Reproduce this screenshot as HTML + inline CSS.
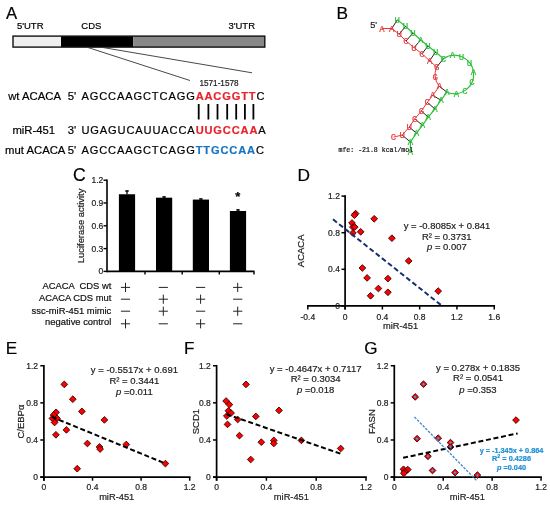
<!DOCTYPE html>
<html><head><meta charset="utf-8"><title>Figure</title>
<style>html,body{margin:0;padding:0;background:#fff;width:550px;height:508px;overflow:hidden}svg{display:block}</style>
</head><body>
<svg width="550" height="508" viewBox="0 0 550 508">
<rect width="550" height="508" fill="#fff"/>
<text x="5.9" y="18.7" font-size="16.7" text-anchor="start" fill="#000" font-weight="normal" font-style="normal" font-family='"Liberation Sans", Arial, sans-serif'  stroke="#000" stroke-width="0.2">A</text>
<text x="16.9" y="29.2" font-size="9.5" text-anchor="start" fill="#000" font-weight="normal" font-style="normal" font-family='"Liberation Sans", Arial, sans-serif'  stroke="#000" stroke-width="0.2">5'UTR</text>
<text x="81.3" y="29.2" font-size="9.5" text-anchor="start" fill="#000" font-weight="normal" font-style="normal" font-family='"Liberation Sans", Arial, sans-serif'  stroke="#000" stroke-width="0.2">CDS</text>
<text x="228.4" y="29.2" font-size="9.5" text-anchor="start" fill="#000" font-weight="normal" font-style="normal" font-family='"Liberation Sans", Arial, sans-serif'  stroke="#000" stroke-width="0.2">3'UTR</text>
<rect x="13" y="36.1" width="48" height="11" fill="#eeeeee" stroke="none"/>
<rect x="61" y="36.1" width="72.3" height="11" fill="#000"/>
<rect x="133.3" y="36.1" width="131.5" height="11" fill="#888888"/>
<rect x="13" y="36.1" width="251.8" height="11" fill="none" stroke="#111" stroke-width="1.4"/>
<line x1="87" y1="47.2" x2="190" y2="80.5" stroke="#333" stroke-width="0.9"/>
<line x1="101" y1="47.2" x2="252" y2="72.8" stroke="#333" stroke-width="0.9"/>
<text x="219" y="85.5" font-size="8.2" text-anchor="middle" fill="#222" font-weight="normal" font-style="normal" font-family='"Liberation Sans", Arial, sans-serif'  stroke="#222" stroke-width="0.2">1571-1578</text>
<text x="8.2" y="99.5" font-size="11.3" text-anchor="start" fill="#000" font-weight="normal" font-style="normal" font-family='"Liberation Sans", Arial, sans-serif'  stroke="#000" stroke-width="0.2">wt ACACA</text>
<text x="67.8" y="99.5" font-size="11.3" text-anchor="start" fill="#000" font-weight="normal" font-style="normal" font-family='"Liberation Sans", Arial, sans-serif'  stroke="#000" stroke-width="0.2">5'</text>
<text x="81.5" y="99.5" font-size="11.1" letter-spacing="0.86" font-family='"Liberation Sans", Arial, sans-serif' stroke="#000" stroke-width="0.2">AGCCAAGCTCAGG<tspan fill="#e8232a" font-weight="bold" stroke="#e8232a" stroke-width="0.2">AACGGTT</tspan><tspan>C</tspan></text>
<text x="12.4" y="133.5" font-size="11.3" text-anchor="start" fill="#000" font-weight="normal" font-style="normal" font-family='"Liberation Sans", Arial, sans-serif'  stroke="#000" stroke-width="0.2">miR-451</text>
<text x="67.8" y="133.5" font-size="11.3" text-anchor="start" fill="#000" font-weight="normal" font-style="normal" font-family='"Liberation Sans", Arial, sans-serif'  stroke="#000" stroke-width="0.2">3'</text>
<text x="81.5" y="133.5" font-size="11.1" letter-spacing="0.86" font-family='"Liberation Sans", Arial, sans-serif' stroke="#000" stroke-width="0.2">UGAGUCAUUACCA<tspan fill="#e8232a" font-weight="bold" stroke="#e8232a" stroke-width="0.2">UUGCCAA</tspan><tspan>A</tspan></text>
<text x="5.1" y="153.5" font-size="11.3" text-anchor="start" fill="#000" font-weight="normal" font-style="normal" font-family='"Liberation Sans", Arial, sans-serif'  stroke="#000" stroke-width="0.2">mut ACACA</text>
<text x="67.8" y="153.5" font-size="11.3" text-anchor="start" fill="#000" font-weight="normal" font-style="normal" font-family='"Liberation Sans", Arial, sans-serif'  stroke="#000" stroke-width="0.2">5'</text>
<text x="81.5" y="153.5" font-size="11.1" letter-spacing="0.86" font-family='"Liberation Sans", Arial, sans-serif' stroke="#000" stroke-width="0.2">AGCCAAGCTCAGG<tspan fill="#1874c4" font-weight="bold" stroke="#1874c4" stroke-width="0.2">TTGCCAA</tspan><tspan>C</tspan></text>
<line x1="198.7" y1="104" x2="198.7" y2="119.5" stroke="#000" stroke-width="1.8"/>
<line x1="208.4" y1="104" x2="208.4" y2="119.5" stroke="#000" stroke-width="1.8"/>
<line x1="217.5" y1="104" x2="217.5" y2="119.5" stroke="#000" stroke-width="1.8"/>
<line x1="227.2" y1="104" x2="227.2" y2="119.5" stroke="#000" stroke-width="1.8"/>
<line x1="236.2" y1="104" x2="236.2" y2="119.5" stroke="#000" stroke-width="1.8"/>
<line x1="244.9" y1="104" x2="244.9" y2="119.5" stroke="#000" stroke-width="1.8"/>
<line x1="253.4" y1="104" x2="253.4" y2="119.5" stroke="#000" stroke-width="1.8"/>
<text x="336.6" y="18.8" font-size="17.3" text-anchor="start" fill="#000" font-weight="normal" font-style="normal" font-family='"Liberation Sans", Arial, sans-serif'  stroke="#000" stroke-width="0.2">B</text>
<text x="370.2" y="28.3" font-size="9.2" text-anchor="start" fill="#222" font-weight="normal" font-style="normal" font-family='"Liberation Sans", Arial, sans-serif'  stroke="#222" stroke-width="0.2">5'</text>
<path fill="none" stroke="#e8383d" stroke-width="1" d="M 382,28.5 L 391.8,28.5 L 399.2,34.2 L 406,41 L 414,47.6 L 422,53.8 L 429.6,60.7 L 436.7,67.05 A 19.2 19.2 0 0 0 439.38,86.46 L 439.38,86.46 L 432.7,95.3 L 427.3,102.4 L 421.4,111 L 414.8,118.8 L 409.2,127.1 L 402.2,135.1 L 393.4,137.1"/>
<path fill="none" stroke="#2fbf3a" stroke-width="1.2" d="M 397.3,19.8 L 405.5,26.4 L 413,33 L 420.7,40 L 428,46 L 435.6,52 L 443.46,58.72 A 19.2 19.2 0 1 1 447.02,92.22 L 447.02,92.22 L 440.9,100.2 L 434.9,108.9 L 428.3,117.2 L 422.4,125.3 L 416.5,133.1 L 410.4,142 L 410.4,151.8"/>
<line x1="391.8" y1="28.5" x2="397.3" y2="19.8" stroke="#222" stroke-width="1"/>
<line x1="399.2" y1="34.2" x2="405.5" y2="26.4" stroke="#222" stroke-width="1"/>
<line x1="406" y1="41" x2="413" y2="33" stroke="#222" stroke-width="1"/>
<line x1="414" y1="47.6" x2="420.7" y2="40" stroke="#222" stroke-width="1"/>
<line x1="422" y1="53.8" x2="428" y2="46" stroke="#222" stroke-width="1"/>
<line x1="429.6" y1="60.7" x2="435.6" y2="52" stroke="#222" stroke-width="1"/>
<line x1="436.7" y1="67.05" x2="443.46" y2="58.72" stroke="#222" stroke-width="1"/>
<line x1="439.38" y1="86.46" x2="447.02" y2="92.22" stroke="#222" stroke-width="1"/>
<line x1="432.7" y1="95.3" x2="440.9" y2="100.2" stroke="#222" stroke-width="1"/>
<line x1="427.3" y1="102.4" x2="434.9" y2="108.9" stroke="#222" stroke-width="1"/>
<line x1="421.4" y1="111" x2="428.3" y2="117.2" stroke="#222" stroke-width="1"/>
<line x1="414.8" y1="118.8" x2="422.4" y2="125.3" stroke="#222" stroke-width="1"/>
<line x1="409.2" y1="127.1" x2="416.5" y2="133.1" stroke="#222" stroke-width="1"/>
<line x1="402.2" y1="135.1" x2="410.4" y2="142" stroke="#222" stroke-width="1"/>
<text x="382" y="31.5" font-size="9" text-anchor="middle" fill="#e8383d" font-family='"Liberation Mono", "Courier New", monospace' stroke="#e8383d" stroke-width="0.2">A</text>
<text x="391.8" y="31.5" font-size="9" text-anchor="middle" fill="#e8383d" font-family='"Liberation Mono", "Courier New", monospace' stroke="#e8383d" stroke-width="0.2">A</text>
<text x="399.2" y="37.2" font-size="9" text-anchor="middle" fill="#e8383d" font-family='"Liberation Mono", "Courier New", monospace' stroke="#e8383d" stroke-width="0.2">U</text>
<text x="406" y="44.0" font-size="9" text-anchor="middle" fill="#e8383d" font-family='"Liberation Mono", "Courier New", monospace' stroke="#e8383d" stroke-width="0.2">C</text>
<text x="414" y="50.6" font-size="9" text-anchor="middle" fill="#e8383d" font-family='"Liberation Mono", "Courier New", monospace' stroke="#e8383d" stroke-width="0.2">U</text>
<text x="422" y="56.8" font-size="9" text-anchor="middle" fill="#e8383d" font-family='"Liberation Mono", "Courier New", monospace' stroke="#e8383d" stroke-width="0.2">C</text>
<text x="429.6" y="63.7" font-size="9" text-anchor="middle" fill="#e8383d" font-family='"Liberation Mono", "Courier New", monospace' stroke="#e8383d" stroke-width="0.2">A</text>
<text x="436.7" y="70.05" font-size="9" text-anchor="middle" fill="#e8383d" font-family='"Liberation Mono", "Courier New", monospace' stroke="#e8383d" stroke-width="0.2">G</text>
<text x="435.31" y="79.53" font-size="9" text-anchor="middle" fill="#e8383d" font-family='"Liberation Mono", "Courier New", monospace' stroke="#e8383d" stroke-width="0.2">G</text>
<text x="439.38" y="89.46" font-size="9" text-anchor="middle" fill="#e8383d" font-family='"Liberation Mono", "Courier New", monospace' stroke="#e8383d" stroke-width="0.2">A</text>
<text x="432.7" y="98.3" font-size="9" text-anchor="middle" fill="#e8383d" font-family='"Liberation Mono", "Courier New", monospace' stroke="#e8383d" stroke-width="0.2">A</text>
<text x="427.3" y="105.4" font-size="9" text-anchor="middle" fill="#e8383d" font-family='"Liberation Mono", "Courier New", monospace' stroke="#e8383d" stroke-width="0.2">C</text>
<text x="421.4" y="114.0" font-size="9" text-anchor="middle" fill="#e8383d" font-family='"Liberation Mono", "Courier New", monospace' stroke="#e8383d" stroke-width="0.2">G</text>
<text x="414.8" y="121.8" font-size="9" text-anchor="middle" fill="#e8383d" font-family='"Liberation Mono", "Courier New", monospace' stroke="#e8383d" stroke-width="0.2">G</text>
<text x="409.2" y="130.1" font-size="9" text-anchor="middle" fill="#e8383d" font-family='"Liberation Mono", "Courier New", monospace' stroke="#e8383d" stroke-width="0.2">U</text>
<text x="402.2" y="138.1" font-size="9" text-anchor="middle" fill="#e8383d" font-family='"Liberation Mono", "Courier New", monospace' stroke="#e8383d" stroke-width="0.2">U</text>
<text x="393.4" y="140.1" font-size="9" text-anchor="middle" fill="#e8383d" font-family='"Liberation Mono", "Courier New", monospace' stroke="#e8383d" stroke-width="0.2">C</text>
<text x="397.3" y="22.8" font-size="9" text-anchor="middle" fill="#2fbf3a" font-family='"Liberation Mono", "Courier New", monospace' stroke="#2fbf3a" stroke-width="0.2">U</text>
<text x="405.5" y="29.4" font-size="9" text-anchor="middle" fill="#2fbf3a" font-family='"Liberation Mono", "Courier New", monospace' stroke="#2fbf3a" stroke-width="0.2">U</text>
<text x="413" y="36.0" font-size="9" text-anchor="middle" fill="#2fbf3a" font-family='"Liberation Mono", "Courier New", monospace' stroke="#2fbf3a" stroke-width="0.2">U</text>
<text x="420.7" y="43.0" font-size="9" text-anchor="middle" fill="#2fbf3a" font-family='"Liberation Mono", "Courier New", monospace' stroke="#2fbf3a" stroke-width="0.2">A</text>
<text x="428" y="49.0" font-size="9" text-anchor="middle" fill="#2fbf3a" font-family='"Liberation Mono", "Courier New", monospace' stroke="#2fbf3a" stroke-width="0.2">U</text>
<text x="435.6" y="55.0" font-size="9" text-anchor="middle" fill="#2fbf3a" font-family='"Liberation Mono", "Courier New", monospace' stroke="#2fbf3a" stroke-width="0.2">U</text>
<text x="443.46" y="61.72" font-size="9" text-anchor="middle" fill="#2fbf3a" font-family='"Liberation Mono", "Courier New", monospace' stroke="#2fbf3a" stroke-width="0.2">C</text>
<text x="452.41" y="58.4" font-size="9" text-anchor="middle" fill="#2fbf3a" font-family='"Liberation Mono", "Courier New", monospace' stroke="#2fbf3a" stroke-width="0.2">A</text>
<text x="461.5" y="59.66" font-size="9" text-anchor="middle" fill="#2fbf3a" font-family='"Liberation Mono", "Courier New", monospace' stroke="#2fbf3a" stroke-width="0.2">U</text>
<text x="469.48" y="65.62" font-size="9" text-anchor="middle" fill="#2fbf3a" font-family='"Liberation Mono", "Courier New", monospace' stroke="#2fbf3a" stroke-width="0.2">U</text>
<text x="473.49" y="75.42" font-size="9" text-anchor="middle" fill="#2fbf3a" font-family='"Liberation Mono", "Courier New", monospace' stroke="#2fbf3a" stroke-width="0.2">A</text>
<text x="471.99" y="85.2" font-size="9" text-anchor="middle" fill="#2fbf3a" font-family='"Liberation Mono", "Courier New", monospace' stroke="#2fbf3a" stroke-width="0.2">C</text>
<text x="465.0" y="93.51" font-size="9" text-anchor="middle" fill="#2fbf3a" font-family='"Liberation Mono", "Courier New", monospace' stroke="#2fbf3a" stroke-width="0.2">C</text>
<text x="456.37" y="96.6" font-size="9" text-anchor="middle" fill="#2fbf3a" font-family='"Liberation Mono", "Courier New", monospace' stroke="#2fbf3a" stroke-width="0.2">A</text>
<text x="447.02" y="95.22" font-size="9" text-anchor="middle" fill="#2fbf3a" font-family='"Liberation Mono", "Courier New", monospace' stroke="#2fbf3a" stroke-width="0.2">A</text>
<text x="440.9" y="103.2" font-size="9" text-anchor="middle" fill="#2fbf3a" font-family='"Liberation Mono", "Courier New", monospace' stroke="#2fbf3a" stroke-width="0.2">A</text>
<text x="434.9" y="111.9" font-size="9" text-anchor="middle" fill="#2fbf3a" font-family='"Liberation Mono", "Courier New", monospace' stroke="#2fbf3a" stroke-width="0.2">A</text>
<text x="428.3" y="120.2" font-size="9" text-anchor="middle" fill="#2fbf3a" font-family='"Liberation Mono", "Courier New", monospace' stroke="#2fbf3a" stroke-width="0.2">A</text>
<text x="422.4" y="128.3" font-size="9" text-anchor="middle" fill="#2fbf3a" font-family='"Liberation Mono", "Courier New", monospace' stroke="#2fbf3a" stroke-width="0.2">A</text>
<text x="416.5" y="136.1" font-size="9" text-anchor="middle" fill="#2fbf3a" font-family='"Liberation Mono", "Courier New", monospace' stroke="#2fbf3a" stroke-width="0.2">A</text>
<text x="410.4" y="145.0" font-size="9" text-anchor="middle" fill="#2fbf3a" font-family='"Liberation Mono", "Courier New", monospace' stroke="#2fbf3a" stroke-width="0.2">A</text>
<text x="410.4" y="154.8" font-size="9" text-anchor="middle" fill="#2fbf3a" font-family='"Liberation Mono", "Courier New", monospace' stroke="#2fbf3a" stroke-width="0.2">A</text>
<text x="338.5" y="151.9" font-size="6.55" text-anchor="start" fill="#111" font-weight="normal" font-style="normal" font-family='"Liberation Mono", "Courier New", monospace'  stroke="#111" stroke-width="0.2">mfe: -21.8 kcal/mol</text>
<text x="72.9" y="180.7" font-size="17.5" text-anchor="start" fill="#000" font-weight="normal" font-style="normal" font-family='"Liberation Sans", Arial, sans-serif'  stroke="#000" stroke-width="0.2">C</text>
<line x1="107" y1="179.39999999999998" x2="107" y2="272.2" stroke="#000" stroke-width="1.6"/>
<line x1="103.5" y1="271.4" x2="107" y2="271.4" stroke="#000" stroke-width="1.4"/>
<text x="103.3" y="274.4" font-size="8.5" text-anchor="end" fill="#222" font-weight="normal" font-style="normal" font-family='"Liberation Sans", Arial, sans-serif'  stroke="#222" stroke-width="0.2">0</text>
<line x1="103.5" y1="248.59999999999997" x2="107" y2="248.59999999999997" stroke="#000" stroke-width="1.4"/>
<text x="103.3" y="251.59999999999997" font-size="8.5" text-anchor="end" fill="#222" font-weight="normal" font-style="normal" font-family='"Liberation Sans", Arial, sans-serif'  stroke="#222" stroke-width="0.2">0.3</text>
<line x1="103.5" y1="225.79999999999998" x2="107" y2="225.79999999999998" stroke="#000" stroke-width="1.4"/>
<text x="103.3" y="228.79999999999998" font-size="8.5" text-anchor="end" fill="#222" font-weight="normal" font-style="normal" font-family='"Liberation Sans", Arial, sans-serif'  stroke="#222" stroke-width="0.2">0.6</text>
<line x1="103.5" y1="202.99999999999997" x2="107" y2="202.99999999999997" stroke="#000" stroke-width="1.4"/>
<text x="103.3" y="205.99999999999997" font-size="8.5" text-anchor="end" fill="#222" font-weight="normal" font-style="normal" font-family='"Liberation Sans", Arial, sans-serif'  stroke="#222" stroke-width="0.2">0.9</text>
<line x1="103.5" y1="180.2" x2="107" y2="180.2" stroke="#000" stroke-width="1.4"/>
<text x="103.3" y="183.2" font-size="8.5" text-anchor="end" fill="#222" font-weight="normal" font-style="normal" font-family='"Liberation Sans", Arial, sans-serif'  stroke="#222" stroke-width="0.2">1.2</text>
<line x1="107" y1="271.4" x2="254.5" y2="271.4" stroke="#000" stroke-width="1.6"/>
<line x1="145" y1="271.4" x2="145" y2="274.5" stroke="#000" stroke-width="1.4"/>
<line x1="182.2" y1="271.4" x2="182.2" y2="274.5" stroke="#000" stroke-width="1.4"/>
<line x1="219.3" y1="271.4" x2="219.3" y2="274.5" stroke="#000" stroke-width="1.4"/>
<line x1="254" y1="271.4" x2="254" y2="274.5" stroke="#000" stroke-width="1.4"/>
<text transform="translate(84.4,225.9) rotate(-90)" font-size="9.4" text-anchor="middle" fill="#222" font-family='"Liberation Sans", Arial, sans-serif' stroke="#222" stroke-width="0.2">Luciferase activity</text>
<rect x="118.9" y="194.26" width="16.2" height="77.13999999999999" fill="#000"/>
<line x1="127.0" y1="194.26" x2="127.0" y2="190.83999999999997" stroke="#000" stroke-width="1.3"/>
<rect x="125.3" y="190.23999999999998" width="3.4" height="1.5" fill="#000"/>
<rect x="156.0" y="197.67999999999998" width="16.2" height="73.72" fill="#000"/>
<line x1="164.1" y1="197.67999999999998" x2="164.1" y2="196.76799999999997" stroke="#000" stroke-width="1.3"/>
<rect x="162.4" y="196.16799999999998" width="3.4" height="1.5" fill="#000"/>
<rect x="192.8" y="199.57999999999998" width="16.2" height="71.82" fill="#000"/>
<line x1="200.9" y1="199.57999999999998" x2="200.9" y2="198.82" stroke="#000" stroke-width="1.3"/>
<rect x="199.20000000000002" y="198.22" width="3.4" height="1.5" fill="#000"/>
<rect x="229.9" y="210.97999999999996" width="16.2" height="60.420000000000016" fill="#000"/>
<line x1="238.0" y1="210.97999999999996" x2="238.0" y2="209.76399999999998" stroke="#000" stroke-width="1.3"/>
<rect x="236.3" y="209.164" width="3.4" height="1.5" fill="#000"/>
<text x="237.9" y="201.4" font-size="13" text-anchor="middle" fill="#000" font-weight="bold" font-style="normal" font-family='"Liberation Sans", Arial, sans-serif'  stroke="#000" stroke-width="0.2">*</text>
<text x="111.3" y="288.9" font-size="9.4" text-anchor="end" fill="#111" font-family='"Liberation Sans", Arial, sans-serif' xml:space="preserve" stroke="#111" stroke-width="0.2">ACACA  CDS wt</text>
<line x1="120.9" y1="287.4" x2="130.1" y2="287.4" stroke="#222" stroke-width="1"/>
<line x1="125.5" y1="282.79999999999995" x2="125.5" y2="292.0" stroke="#222" stroke-width="1"/>
<line x1="158.70000000000002" y1="287.4" x2="167.9" y2="287.4" stroke="#222" stroke-width="1"/>
<line x1="196.0" y1="287.4" x2="205.2" y2="287.4" stroke="#222" stroke-width="1"/>
<line x1="233.1" y1="287.4" x2="242.29999999999998" y2="287.4" stroke="#222" stroke-width="1"/>
<line x1="237.7" y1="282.79999999999995" x2="237.7" y2="292.0" stroke="#222" stroke-width="1"/>
<text x="111.3" y="301.3" font-size="9.4" text-anchor="end" fill="#111" font-family='"Liberation Sans", Arial, sans-serif' xml:space="preserve" stroke="#111" stroke-width="0.2">ACACA CDS mut</text>
<line x1="120.9" y1="299.2" x2="130.1" y2="299.2" stroke="#222" stroke-width="1"/>
<line x1="158.70000000000002" y1="299.2" x2="167.9" y2="299.2" stroke="#222" stroke-width="1"/>
<line x1="163.3" y1="294.59999999999997" x2="163.3" y2="303.8" stroke="#222" stroke-width="1"/>
<line x1="196.0" y1="299.2" x2="205.2" y2="299.2" stroke="#222" stroke-width="1"/>
<line x1="200.6" y1="294.59999999999997" x2="200.6" y2="303.8" stroke="#222" stroke-width="1"/>
<line x1="233.1" y1="299.2" x2="242.29999999999998" y2="299.2" stroke="#222" stroke-width="1"/>
<text x="111.3" y="313.5" font-size="9.4" text-anchor="end" fill="#111" font-family='"Liberation Sans", Arial, sans-serif' xml:space="preserve" stroke="#111" stroke-width="0.2">ssc-miR-451 mimic</text>
<line x1="120.9" y1="311.2" x2="130.1" y2="311.2" stroke="#222" stroke-width="1"/>
<line x1="158.70000000000002" y1="311.2" x2="167.9" y2="311.2" stroke="#222" stroke-width="1"/>
<line x1="163.3" y1="306.59999999999997" x2="163.3" y2="315.8" stroke="#222" stroke-width="1"/>
<line x1="196.0" y1="311.2" x2="205.2" y2="311.2" stroke="#222" stroke-width="1"/>
<line x1="233.1" y1="311.2" x2="242.29999999999998" y2="311.2" stroke="#222" stroke-width="1"/>
<line x1="237.7" y1="306.59999999999997" x2="237.7" y2="315.8" stroke="#222" stroke-width="1"/>
<text x="111.3" y="325.3" font-size="9.4" text-anchor="end" fill="#111" font-family='"Liberation Sans", Arial, sans-serif' xml:space="preserve" stroke="#111" stroke-width="0.2">negative control</text>
<line x1="120.9" y1="323.8" x2="130.1" y2="323.8" stroke="#222" stroke-width="1"/>
<line x1="125.5" y1="319.2" x2="125.5" y2="328.40000000000003" stroke="#222" stroke-width="1"/>
<line x1="158.70000000000002" y1="323.8" x2="167.9" y2="323.8" stroke="#222" stroke-width="1"/>
<line x1="196.0" y1="323.8" x2="205.2" y2="323.8" stroke="#222" stroke-width="1"/>
<line x1="200.6" y1="319.2" x2="200.6" y2="328.40000000000003" stroke="#222" stroke-width="1"/>
<line x1="233.1" y1="323.8" x2="242.29999999999998" y2="323.8" stroke="#222" stroke-width="1"/>
<text x="297.6" y="180.6" font-size="17.3" text-anchor="start" fill="#000" font-weight="normal" font-style="normal" font-family='"Liberation Sans", Arial, sans-serif'  stroke="#000" stroke-width="0.2">D</text>
<line x1="345.1" y1="195.29999999999995" x2="345.1" y2="309.5" stroke="#000" stroke-width="1.7"/>
<line x1="307.02000000000004" y1="305.9" x2="495.02000000000004" y2="305.9" stroke="#000" stroke-width="1.7"/>
<line x1="341.5" y1="196.09999999999997" x2="345.1" y2="196.09999999999997" stroke="#000" stroke-width="1.5"/>
<text x="339.9" y="199.09999999999997" font-size="8.5" text-anchor="end" fill="#222" font-weight="normal" font-style="normal" font-family='"Liberation Sans", Arial, sans-serif'  stroke="#222" stroke-width="0.2">1.2</text>
<line x1="341.5" y1="232.7" x2="345.1" y2="232.7" stroke="#000" stroke-width="1.5"/>
<text x="339.9" y="235.7" font-size="8.5" text-anchor="end" fill="#222" font-weight="normal" font-style="normal" font-family='"Liberation Sans", Arial, sans-serif'  stroke="#222" stroke-width="0.2">0.8</text>
<line x1="341.5" y1="269.29999999999995" x2="345.1" y2="269.29999999999995" stroke="#000" stroke-width="1.5"/>
<text x="339.9" y="272.29999999999995" font-size="8.5" text-anchor="end" fill="#222" font-weight="normal" font-style="normal" font-family='"Liberation Sans", Arial, sans-serif'  stroke="#222" stroke-width="0.2">0.4</text>
<line x1="341.5" y1="305.9" x2="345.1" y2="305.9" stroke="#000" stroke-width="1.5"/>
<text x="339.9" y="308.9" font-size="8.5" text-anchor="end" fill="#222" font-weight="normal" font-style="normal" font-family='"Liberation Sans", Arial, sans-serif'  stroke="#222" stroke-width="0.2">0</text>
<line x1="307.82000000000005" y1="305.9" x2="307.82000000000005" y2="309.5" stroke="#000" stroke-width="1.5"/>
<text x="307.82000000000005" y="319.6" font-size="8.5" text-anchor="middle" fill="#222" font-weight="normal" font-style="normal" font-family='"Liberation Sans", Arial, sans-serif'  stroke="#222" stroke-width="0.2">-0.4</text>
<line x1="345.1" y1="305.9" x2="345.1" y2="309.5" stroke="#000" stroke-width="1.5"/>
<text x="345.1" y="319.6" font-size="8.5" text-anchor="middle" fill="#222" font-weight="normal" font-style="normal" font-family='"Liberation Sans", Arial, sans-serif'  stroke="#222" stroke-width="0.2">0</text>
<line x1="382.38" y1="305.9" x2="382.38" y2="309.5" stroke="#000" stroke-width="1.5"/>
<text x="382.38" y="319.6" font-size="8.5" text-anchor="middle" fill="#222" font-weight="normal" font-style="normal" font-family='"Liberation Sans", Arial, sans-serif'  stroke="#222" stroke-width="0.2">0.4</text>
<line x1="419.66" y1="305.9" x2="419.66" y2="309.5" stroke="#000" stroke-width="1.5"/>
<text x="419.66" y="319.6" font-size="8.5" text-anchor="middle" fill="#222" font-weight="normal" font-style="normal" font-family='"Liberation Sans", Arial, sans-serif'  stroke="#222" stroke-width="0.2">0.8</text>
<line x1="456.94000000000005" y1="305.9" x2="456.94000000000005" y2="309.5" stroke="#000" stroke-width="1.5"/>
<text x="456.94000000000005" y="319.6" font-size="8.5" text-anchor="middle" fill="#222" font-weight="normal" font-style="normal" font-family='"Liberation Sans", Arial, sans-serif'  stroke="#222" stroke-width="0.2">1.2</text>
<line x1="494.22" y1="305.9" x2="494.22" y2="309.5" stroke="#000" stroke-width="1.5"/>
<text x="494.22" y="319.6" font-size="8.5" text-anchor="middle" fill="#222" font-weight="normal" font-style="normal" font-family='"Liberation Sans", Arial, sans-serif'  stroke="#222" stroke-width="0.2">1.6</text>
<text transform="translate(303.9,250.8) rotate(-90)" font-size="9.5" text-anchor="middle" fill="#222" font-family='"Liberation Sans", Arial, sans-serif' stroke="#222" stroke-width="0.2">ACACA</text>
<text x="400.5" y="329.4" font-size="9.3" text-anchor="middle" fill="#222" font-weight="normal" font-style="normal" font-family='"Liberation Sans", Arial, sans-serif'  stroke="#222" stroke-width="0.2">miR-451</text>
<polygon points="355.6,210.25 358.95000000000005,213.6 355.6,216.95 352.25,213.6" fill="#ff0000" stroke="#300" stroke-width="0.9"/>
<polygon points="354.4,211.85 357.75,215.2 354.4,218.54999999999998 351.04999999999995,215.2" fill="#ff0000" stroke="#300" stroke-width="0.9"/>
<polygon points="352,219.65 355.35,223 352,226.35 348.65,223" fill="#ff0000" stroke="#300" stroke-width="0.9"/>
<polygon points="352.9,223.75 356.25,227.1 352.9,230.45 349.54999999999995,227.1" fill="#ff0000" stroke="#300" stroke-width="0.9"/>
<polygon points="354.8,223.75 358.15000000000003,227.1 354.8,230.45 351.45,227.1" fill="#ff0000" stroke="#300" stroke-width="0.9"/>
<polygon points="352.9,229.65 356.25,233 352.9,236.35 349.54999999999995,233" fill="#ff0000" stroke="#300" stroke-width="0.9"/>
<polygon points="360.7,228.45000000000002 364.05,231.8 360.7,235.15 357.34999999999997,231.8" fill="#ff0000" stroke="#300" stroke-width="0.9"/>
<polygon points="374.2,215.45000000000002 377.55,218.8 374.2,222.15 370.84999999999997,218.8" fill="#ff0000" stroke="#300" stroke-width="0.9"/>
<polygon points="391.9,234.85 395.25,238.2 391.9,241.54999999999998 388.54999999999995,238.2" fill="#ff0000" stroke="#300" stroke-width="0.9"/>
<polygon points="408.7,257.54999999999995 412.05,260.9 408.7,264.25 405.34999999999997,260.9" fill="#ff0000" stroke="#300" stroke-width="0.9"/>
<polygon points="362.4,264.65 365.75,268 362.4,271.35 359.04999999999995,268" fill="#ff0000" stroke="#300" stroke-width="0.9"/>
<polygon points="367.1,274.54999999999995 370.45000000000005,277.9 367.1,281.25 363.75,277.9" fill="#ff0000" stroke="#300" stroke-width="0.9"/>
<polygon points="387.9,275.25 391.25,278.6 387.9,281.95000000000005 384.54999999999995,278.6" fill="#ff0000" stroke="#300" stroke-width="0.9"/>
<polygon points="378.4,285.15 381.75,288.5 378.4,291.85 375.04999999999995,288.5" fill="#ff0000" stroke="#300" stroke-width="0.9"/>
<polygon points="370.6,292.45 373.95000000000005,295.8 370.6,299.15000000000003 367.25,295.8" fill="#ff0000" stroke="#300" stroke-width="0.9"/>
<polygon points="387.9,288.95 391.25,292.3 387.9,295.65000000000003 384.54999999999995,292.3" fill="#ff0000" stroke="#300" stroke-width="0.9"/>
<polygon points="438.2,287.75 441.55,291.1 438.2,294.45000000000005 434.84999999999997,291.1" fill="#ff0000" stroke="#300" stroke-width="0.9"/>
<line x1="332.98400000000004" y1="219.3313925" x2="442.0464440321583" y2="305.9" stroke="#172f6e" stroke-width="2" stroke-dasharray="5 2.8"/>
<text x="447" y="229.1" font-size="9.45" text-anchor="middle" fill="#222" font-weight="normal" font-style="normal" font-family='"Liberation Sans", Arial, sans-serif'  stroke="#222" stroke-width="0.2">y = -0.8085x + 0.841</text>
<text x="446.8" y="240.0" font-size="9.45" text-anchor="middle" fill="#222" font-family='"Liberation Sans", Arial, sans-serif' stroke="#222" stroke-width="0.2">R² = 0.3731</text>
<text x="446.9" y="250.4" font-size="9.45" text-anchor="middle" fill="#222" font-family='"Liberation Sans", Arial, sans-serif' stroke="#222" stroke-width="0.2"><tspan font-style="italic">p</tspan> = 0.007</text>
<text x="5.8" y="354.1" font-size="17.1" text-anchor="start" fill="#000" font-weight="normal" font-style="normal" font-family='"Liberation Sans", Arial, sans-serif'  stroke="#000" stroke-width="0.2">E</text>
<line x1="43.9" y1="364.94" x2="43.9" y2="480.70000000000005" stroke="#000" stroke-width="1.7"/>
<line x1="40.3" y1="477.1" x2="190.5" y2="477.1" stroke="#000" stroke-width="1.7"/>
<line x1="40.3" y1="365.74" x2="43.9" y2="365.74" stroke="#000" stroke-width="1.5"/>
<text x="38.1" y="368.74" font-size="8.5" text-anchor="end" fill="#222" font-weight="normal" font-style="normal" font-family='"Liberation Sans", Arial, sans-serif'  stroke="#222" stroke-width="0.2">1.2</text>
<line x1="40.3" y1="402.86" x2="43.9" y2="402.86" stroke="#000" stroke-width="1.5"/>
<text x="38.1" y="405.86" font-size="8.5" text-anchor="end" fill="#222" font-weight="normal" font-style="normal" font-family='"Liberation Sans", Arial, sans-serif'  stroke="#222" stroke-width="0.2">0.8</text>
<line x1="40.3" y1="439.98" x2="43.9" y2="439.98" stroke="#000" stroke-width="1.5"/>
<text x="38.1" y="442.98" font-size="8.5" text-anchor="end" fill="#222" font-weight="normal" font-style="normal" font-family='"Liberation Sans", Arial, sans-serif'  stroke="#222" stroke-width="0.2">0.4</text>
<line x1="40.3" y1="477.1" x2="43.9" y2="477.1" stroke="#000" stroke-width="1.5"/>
<text x="38.1" y="480.1" font-size="8.5" text-anchor="end" fill="#222" font-weight="normal" font-style="normal" font-family='"Liberation Sans", Arial, sans-serif'  stroke="#222" stroke-width="0.2">0</text>
<line x1="43.9" y1="477.1" x2="43.9" y2="480.70000000000005" stroke="#000" stroke-width="1.5"/>
<text x="43.9" y="490.2" font-size="8.5" text-anchor="middle" fill="#222" font-weight="normal" font-style="normal" font-family='"Liberation Sans", Arial, sans-serif'  stroke="#222" stroke-width="0.2">0</text>
<line x1="92.5" y1="477.1" x2="92.5" y2="480.70000000000005" stroke="#000" stroke-width="1.5"/>
<text x="92.5" y="490.2" font-size="8.5" text-anchor="middle" fill="#222" font-weight="normal" font-style="normal" font-family='"Liberation Sans", Arial, sans-serif'  stroke="#222" stroke-width="0.2">0.4</text>
<line x1="141.1" y1="477.1" x2="141.1" y2="480.70000000000005" stroke="#000" stroke-width="1.5"/>
<text x="141.1" y="490.2" font-size="8.5" text-anchor="middle" fill="#222" font-weight="normal" font-style="normal" font-family='"Liberation Sans", Arial, sans-serif'  stroke="#222" stroke-width="0.2">0.8</text>
<line x1="189.7" y1="477.1" x2="189.7" y2="480.70000000000005" stroke="#000" stroke-width="1.5"/>
<text x="189.7" y="490.2" font-size="8.5" text-anchor="middle" fill="#222" font-weight="normal" font-style="normal" font-family='"Liberation Sans", Arial, sans-serif'  stroke="#222" stroke-width="0.2">1.2</text>
<text transform="translate(23.8,421.6) rotate(-90)" font-size="9.5" text-anchor="middle" fill="#222" font-family='"Liberation Sans", Arial, sans-serif' stroke="#222" stroke-width="0.2">C/EBPα</text>
<text x="116.7" y="499.9" font-size="9.3" text-anchor="middle" fill="#222" font-weight="normal" font-style="normal" font-family='"Liberation Sans", Arial, sans-serif'  stroke="#222" stroke-width="0.2">miR-451</text>
<polygon points="64.3,381.04999999999995 67.64999999999999,384.4 64.3,387.75 60.949999999999996,384.4" fill="#ff0000" stroke="#300" stroke-width="0.9"/>
<polygon points="72.8,395.84999999999997 76.14999999999999,399.2 72.8,402.55 69.45,399.2" fill="#ff0000" stroke="#300" stroke-width="0.9"/>
<polygon points="81.9,408.04999999999995 85.25,411.4 81.9,414.75 78.55000000000001,411.4" fill="#ff0000" stroke="#300" stroke-width="0.9"/>
<polygon points="104.4,416.54999999999995 107.75,419.9 104.4,423.25 101.05000000000001,419.9" fill="#ff0000" stroke="#300" stroke-width="0.9"/>
<polygon points="56.1,408.95 59.45,412.3 56.1,415.65000000000003 52.75,412.3" fill="#ff0000" stroke="#300" stroke-width="0.9"/>
<polygon points="53.6,411.65 56.95,415 53.6,418.35 50.25,415" fill="#ff0000" stroke="#300" stroke-width="0.9"/>
<polygon points="57,415.04999999999995 60.35,418.4 57,421.75 53.65,418.4" fill="#ff0000" stroke="#300" stroke-width="0.9"/>
<polygon points="52.4,415.04999999999995 55.75,418.4 52.4,421.75 49.05,418.4" fill="#ff0000" stroke="#300" stroke-width="0.9"/>
<polygon points="54.6,419.15 57.95,422.5 54.6,425.85 51.25,422.5" fill="#ff0000" stroke="#300" stroke-width="0.9"/>
<polygon points="66.4,426.54999999999995 69.75,429.9 66.4,433.25 63.050000000000004,429.9" fill="#ff0000" stroke="#300" stroke-width="0.9"/>
<polygon points="55.9,431.45 59.25,434.8 55.9,438.15000000000003 52.55,434.8" fill="#ff0000" stroke="#300" stroke-width="0.9"/>
<polygon points="87.4,440.15 90.75,443.5 87.4,446.85 84.05000000000001,443.5" fill="#ff0000" stroke="#300" stroke-width="0.9"/>
<polygon points="99.5,443.54999999999995 102.85,446.9 99.5,450.25 96.15,446.9" fill="#ff0000" stroke="#300" stroke-width="0.9"/>
<polygon points="100.1,445.75 103.44999999999999,449.1 100.1,452.45000000000005 96.75,449.1" fill="#ff0000" stroke="#300" stroke-width="0.9"/>
<polygon points="126.3,441.15 129.65,444.5 126.3,447.85 122.95,444.5" fill="#ff0000" stroke="#300" stroke-width="0.9"/>
<polygon points="165.4,460.25 168.75,463.6 165.4,466.95000000000005 162.05,463.6" fill="#ff0000" stroke="#300" stroke-width="0.9"/>
<polygon points="77.2,465.34999999999997 80.55,468.7 77.2,472.05 73.85000000000001,468.7" fill="#ff0000" stroke="#300" stroke-width="0.9"/>
<line x1="51.8" y1="416.9" x2="165.3" y2="463.5" stroke="#000" stroke-width="2" stroke-dasharray="5 2.7"/>
<text x="134.4" y="373.2" font-size="9.5" text-anchor="middle" fill="#222" font-weight="normal" font-style="normal" font-family='"Liberation Sans", Arial, sans-serif'  stroke="#222" stroke-width="0.2">y = -0.5517x + 0.691</text>
<text x="134.4" y="384.1" font-size="9.5" text-anchor="middle" fill="#222" font-family='"Liberation Sans", Arial, sans-serif' stroke="#222" stroke-width="0.2">R² = 0.3441</text>
<text x="134.4" y="394.6" font-size="9.5" text-anchor="middle" fill="#222" font-family='"Liberation Sans", Arial, sans-serif' stroke="#222" stroke-width="0.2"><tspan font-style="italic">p</tspan> =0.011</text>
<text x="184.1" y="354.1" font-size="17.1" text-anchor="start" fill="#000" font-weight="normal" font-style="normal" font-family='"Liberation Sans", Arial, sans-serif'  stroke="#000" stroke-width="0.2">F</text>
<line x1="216.6" y1="364.94" x2="216.6" y2="480.70000000000005" stroke="#000" stroke-width="1.7"/>
<line x1="213.0" y1="477.1" x2="366.8" y2="477.1" stroke="#000" stroke-width="1.7"/>
<line x1="213.0" y1="365.74" x2="216.6" y2="365.74" stroke="#000" stroke-width="1.5"/>
<text x="210.79999999999998" y="368.74" font-size="8.5" text-anchor="end" fill="#222" font-weight="normal" font-style="normal" font-family='"Liberation Sans", Arial, sans-serif'  stroke="#222" stroke-width="0.2">1.2</text>
<line x1="213.0" y1="402.86" x2="216.6" y2="402.86" stroke="#000" stroke-width="1.5"/>
<text x="210.79999999999998" y="405.86" font-size="8.5" text-anchor="end" fill="#222" font-weight="normal" font-style="normal" font-family='"Liberation Sans", Arial, sans-serif'  stroke="#222" stroke-width="0.2">0.8</text>
<line x1="213.0" y1="439.98" x2="216.6" y2="439.98" stroke="#000" stroke-width="1.5"/>
<text x="210.79999999999998" y="442.98" font-size="8.5" text-anchor="end" fill="#222" font-weight="normal" font-style="normal" font-family='"Liberation Sans", Arial, sans-serif'  stroke="#222" stroke-width="0.2">0.4</text>
<line x1="213.0" y1="477.1" x2="216.6" y2="477.1" stroke="#000" stroke-width="1.5"/>
<text x="210.79999999999998" y="480.1" font-size="8.5" text-anchor="end" fill="#222" font-weight="normal" font-style="normal" font-family='"Liberation Sans", Arial, sans-serif'  stroke="#222" stroke-width="0.2">0</text>
<line x1="216.6" y1="477.1" x2="216.6" y2="480.70000000000005" stroke="#000" stroke-width="1.5"/>
<text x="216.6" y="490.2" font-size="8.5" text-anchor="middle" fill="#222" font-weight="normal" font-style="normal" font-family='"Liberation Sans", Arial, sans-serif'  stroke="#222" stroke-width="0.2">0</text>
<line x1="266.4" y1="477.1" x2="266.4" y2="480.70000000000005" stroke="#000" stroke-width="1.5"/>
<text x="266.4" y="490.2" font-size="8.5" text-anchor="middle" fill="#222" font-weight="normal" font-style="normal" font-family='"Liberation Sans", Arial, sans-serif'  stroke="#222" stroke-width="0.2">0.4</text>
<line x1="316.2" y1="477.1" x2="316.2" y2="480.70000000000005" stroke="#000" stroke-width="1.5"/>
<text x="316.2" y="490.2" font-size="8.5" text-anchor="middle" fill="#222" font-weight="normal" font-style="normal" font-family='"Liberation Sans", Arial, sans-serif'  stroke="#222" stroke-width="0.2">0.8</text>
<line x1="366.0" y1="477.1" x2="366.0" y2="480.70000000000005" stroke="#000" stroke-width="1.5"/>
<text x="366.0" y="490.2" font-size="8.5" text-anchor="middle" fill="#222" font-weight="normal" font-style="normal" font-family='"Liberation Sans", Arial, sans-serif'  stroke="#222" stroke-width="0.2">1.2</text>
<text transform="translate(198.5,421.6) rotate(-90)" font-size="9.5" text-anchor="middle" fill="#222" font-family='"Liberation Sans", Arial, sans-serif' stroke="#222" stroke-width="0.2">SCD1</text>
<text x="291.4" y="499.9" font-size="9.3" text-anchor="middle" fill="#222" font-weight="normal" font-style="normal" font-family='"Liberation Sans", Arial, sans-serif'  stroke="#222" stroke-width="0.2">miR-451</text>
<polygon points="246,381.04999999999995 249.35,384.4 246,387.75 242.65,384.4" fill="#ff0000" stroke="#300" stroke-width="0.9"/>
<polygon points="226.1,397.65 229.45,401 226.1,404.35 222.75,401" fill="#ff0000" stroke="#300" stroke-width="0.9"/>
<polygon points="229.4,401.25 232.75,404.6 229.4,407.95000000000005 226.05,404.6" fill="#ff0000" stroke="#300" stroke-width="0.9"/>
<polygon points="279,407.04999999999995 282.35,410.4 279,413.75 275.65,410.4" fill="#ff0000" stroke="#300" stroke-width="0.9"/>
<polygon points="228.4,407.45 231.75,410.8 228.4,414.15000000000003 225.05,410.8" fill="#ff0000" stroke="#300" stroke-width="0.9"/>
<polygon points="231.1,409.65 234.45,413 231.1,416.35 227.75,413" fill="#ff0000" stroke="#300" stroke-width="0.9"/>
<polygon points="226.8,412.65 230.15,416 226.8,419.35 223.45000000000002,416" fill="#ff0000" stroke="#300" stroke-width="0.9"/>
<polygon points="237.7,416.15 241.04999999999998,419.5 237.7,422.85 234.35,419.5" fill="#ff0000" stroke="#300" stroke-width="0.9"/>
<polygon points="255.8,413.04999999999995 259.15000000000003,416.4 255.8,419.75 252.45000000000002,416.4" fill="#ff0000" stroke="#300" stroke-width="0.9"/>
<polygon points="227.5,421.04999999999995 230.85,424.4 227.5,427.75 224.15,424.4" fill="#ff0000" stroke="#300" stroke-width="0.9"/>
<polygon points="239.5,432.25 242.85,435.6 239.5,438.95000000000005 236.15,435.6" fill="#ff0000" stroke="#300" stroke-width="0.9"/>
<polygon points="261.3,438.84999999999997 264.65000000000003,442.2 261.3,445.55 257.95,442.2" fill="#ff0000" stroke="#300" stroke-width="0.9"/>
<polygon points="273.8,437.04999999999995 277.15000000000003,440.4 273.8,443.75 270.45,440.4" fill="#ff0000" stroke="#300" stroke-width="0.9"/>
<polygon points="273.8,440.15 277.15000000000003,443.5 273.8,446.85 270.45,443.5" fill="#ff0000" stroke="#300" stroke-width="0.9"/>
<polygon points="301.4,437.04999999999995 304.75,440.4 301.4,443.75 298.04999999999995,440.4" fill="#ff0000" stroke="#300" stroke-width="0.9"/>
<polygon points="340.7,445.15 344.05,448.5 340.7,451.85 337.34999999999997,448.5" fill="#ff0000" stroke="#300" stroke-width="0.9"/>
<polygon points="250.7,456.15 254.04999999999998,459.5 250.7,462.85 247.35,459.5" fill="#ff0000" stroke="#300" stroke-width="0.9"/>
<line x1="226.5" y1="414.2" x2="341.3" y2="454" stroke="#000" stroke-width="2" stroke-dasharray="5 2.7"/>
<text x="315.6" y="372" font-size="9.5" text-anchor="middle" fill="#222" font-weight="normal" font-style="normal" font-family='"Liberation Sans", Arial, sans-serif'  stroke="#222" stroke-width="0.2">y = -0.4647x + 0.7117</text>
<text x="315.6" y="382.4" font-size="9.5" text-anchor="middle" fill="#222" font-family='"Liberation Sans", Arial, sans-serif' stroke="#222" stroke-width="0.2">R² = 0.3034</text>
<text x="315.6" y="393.4" font-size="9.5" text-anchor="middle" fill="#222" font-family='"Liberation Sans", Arial, sans-serif' stroke="#222" stroke-width="0.2"><tspan font-style="italic">p</tspan> =0.018</text>
<text x="364.2" y="354.1" font-size="17.1" text-anchor="start" fill="#000" font-weight="normal" font-style="normal" font-family='"Liberation Sans", Arial, sans-serif'  stroke="#000" stroke-width="0.2">G</text>
<line x1="394.3" y1="364.94" x2="394.3" y2="480.70000000000005" stroke="#000" stroke-width="1.7"/>
<line x1="390.7" y1="477.1" x2="541.8599999999999" y2="477.1" stroke="#000" stroke-width="1.7"/>
<line x1="390.7" y1="365.74" x2="394.3" y2="365.74" stroke="#000" stroke-width="1.5"/>
<text x="388.5" y="368.74" font-size="8.5" text-anchor="end" fill="#222" font-weight="normal" font-style="normal" font-family='"Liberation Sans", Arial, sans-serif'  stroke="#222" stroke-width="0.2">1.2</text>
<line x1="390.7" y1="402.86" x2="394.3" y2="402.86" stroke="#000" stroke-width="1.5"/>
<text x="388.5" y="405.86" font-size="8.5" text-anchor="end" fill="#222" font-weight="normal" font-style="normal" font-family='"Liberation Sans", Arial, sans-serif'  stroke="#222" stroke-width="0.2">0.8</text>
<line x1="390.7" y1="439.98" x2="394.3" y2="439.98" stroke="#000" stroke-width="1.5"/>
<text x="388.5" y="442.98" font-size="8.5" text-anchor="end" fill="#222" font-weight="normal" font-style="normal" font-family='"Liberation Sans", Arial, sans-serif'  stroke="#222" stroke-width="0.2">0.4</text>
<line x1="390.7" y1="477.1" x2="394.3" y2="477.1" stroke="#000" stroke-width="1.5"/>
<text x="388.5" y="480.1" font-size="8.5" text-anchor="end" fill="#222" font-weight="normal" font-style="normal" font-family='"Liberation Sans", Arial, sans-serif'  stroke="#222" stroke-width="0.2">0</text>
<line x1="394.3" y1="477.1" x2="394.3" y2="480.70000000000005" stroke="#000" stroke-width="1.5"/>
<text x="394.3" y="490.2" font-size="8.5" text-anchor="middle" fill="#222" font-weight="normal" font-style="normal" font-family='"Liberation Sans", Arial, sans-serif'  stroke="#222" stroke-width="0.2">0</text>
<line x1="443.22" y1="477.1" x2="443.22" y2="480.70000000000005" stroke="#000" stroke-width="1.5"/>
<text x="443.22" y="490.2" font-size="8.5" text-anchor="middle" fill="#222" font-weight="normal" font-style="normal" font-family='"Liberation Sans", Arial, sans-serif'  stroke="#222" stroke-width="0.2">0.4</text>
<line x1="492.14" y1="477.1" x2="492.14" y2="480.70000000000005" stroke="#000" stroke-width="1.5"/>
<text x="492.14" y="490.2" font-size="8.5" text-anchor="middle" fill="#222" font-weight="normal" font-style="normal" font-family='"Liberation Sans", Arial, sans-serif'  stroke="#222" stroke-width="0.2">0.8</text>
<line x1="541.06" y1="477.1" x2="541.06" y2="480.70000000000005" stroke="#000" stroke-width="1.5"/>
<text x="541.06" y="490.2" font-size="8.5" text-anchor="middle" fill="#222" font-weight="normal" font-style="normal" font-family='"Liberation Sans", Arial, sans-serif'  stroke="#222" stroke-width="0.2">1.2</text>
<text transform="translate(374.6,421.6) rotate(-90)" font-size="9.5" text-anchor="middle" fill="#222" font-family='"Liberation Sans", Arial, sans-serif' stroke="#222" stroke-width="0.2">FASN</text>
<text x="467.4" y="499.9" font-size="9.3" text-anchor="middle" fill="#222" font-weight="normal" font-style="normal" font-family='"Liberation Sans", Arial, sans-serif'  stroke="#222" stroke-width="0.2">miR-451</text>
<polygon points="423.5,380.84999999999997 426.85,384.2 423.5,387.55 420.15,384.2" fill="#ff0000" stroke="#300" stroke-width="0.9"/>
<polygon points="415.2,393.54999999999995 418.55,396.9 415.2,400.25 411.84999999999997,396.9" fill="#ff0000" stroke="#300" stroke-width="0.9"/>
<polygon points="417.1,435.34999999999997 420.45000000000005,438.7 417.1,442.05 413.75,438.7" fill="#ff0000" stroke="#300" stroke-width="0.9"/>
<polygon points="438.2,434.84999999999997 441.55,438.2 438.2,441.55 434.84999999999997,438.2" fill="#ff0000" stroke="#300" stroke-width="0.9"/>
<polygon points="450.5,439.25 453.85,442.6 450.5,445.95000000000005 447.15,442.6" fill="#ff0000" stroke="#300" stroke-width="0.9"/>
<polygon points="450.5,443.65 453.85,447 450.5,450.35 447.15,447" fill="#ff0000" stroke="#300" stroke-width="0.9"/>
<polygon points="427.9,452.95 431.25,456.3 427.9,459.65000000000003 424.54999999999995,456.3" fill="#ff0000" stroke="#300" stroke-width="0.9"/>
<polygon points="432.5,467.15 435.85,470.5 432.5,473.85 429.15,470.5" fill="#ff0000" stroke="#300" stroke-width="0.9"/>
<polygon points="455.1,469.25 458.45000000000005,472.6 455.1,475.95000000000005 451.75,472.6" fill="#ff0000" stroke="#300" stroke-width="0.9"/>
<polygon points="477.4,471.75 480.75,475.1 477.4,478.45000000000005 474.04999999999995,475.1" fill="#ff0000" stroke="#300" stroke-width="0.9"/>
<polygon points="516,416.75 519.35,420.1 516,423.45000000000005 512.65,420.1" fill="#ff0000" stroke="#300" stroke-width="0.9"/>
<polygon points="403.5,465.95 406.85,469.3 403.5,472.65000000000003 400.15,469.3" fill="#ff0000" stroke="#300" stroke-width="0.9"/>
<polygon points="407.8,466.25 411.15000000000003,469.6 407.8,472.95000000000005 404.45,469.6" fill="#ff0000" stroke="#300" stroke-width="0.9"/>
<polygon points="404.9,468.45 408.25,471.8 404.9,475.15000000000003 401.54999999999995,471.8" fill="#ff0000" stroke="#300" stroke-width="0.9"/>
<polygon points="403.8,469.95 407.15000000000003,473.3 403.8,476.65000000000003 400.45,473.3" fill="#ff0000" stroke="#300" stroke-width="0.9"/>
<line x1="403.1" y1="457.8" x2="517.6" y2="433.4" stroke="#000" stroke-width="2" stroke-dasharray="5 2.7"/>
<polygon points="423.5,382.75 424.95,384.2 423.5,385.65 422.05,384.2" fill="#3fa0e0"/>
<polygon points="415.2,395.45 416.65,396.9 415.2,398.34999999999997 413.75,396.9" fill="#3fa0e0"/>
<polygon points="417.1,437.25 418.55,438.7 417.1,440.15 415.65000000000003,438.7" fill="#3fa0e0"/>
<polygon points="438.2,436.75 439.65,438.2 438.2,439.65 436.75,438.2" fill="#3fa0e0"/>
<polygon points="450.5,441.15000000000003 451.95,442.6 450.5,444.05 449.05,442.6" fill="#3fa0e0"/>
<polygon points="450.5,445.55 451.95,447 450.5,448.45 449.05,447" fill="#3fa0e0"/>
<polygon points="427.9,454.85 429.34999999999997,456.3 427.9,457.75 426.45,456.3" fill="#3fa0e0"/>
<polygon points="432.5,469.05 433.95,470.5 432.5,471.95 431.05,470.5" fill="#3fa0e0"/>
<polygon points="455.1,471.15000000000003 456.55,472.6 455.1,474.05 453.65000000000003,472.6" fill="#3fa0e0"/>
<polygon points="477.4,473.65000000000003 478.84999999999997,475.1 477.4,476.55 475.95,475.1" fill="#3fa0e0"/>
<line x1="414.5" y1="417" x2="477.2" y2="481.2" stroke="#3a86d4" stroke-width="1.3" stroke-dasharray="2.6 1.3"/>
<text x="478" y="370.6" font-size="9.5" text-anchor="middle" fill="#222" font-weight="normal" font-style="normal" font-family='"Liberation Sans", Arial, sans-serif'  stroke="#222" stroke-width="0.2">y = 0.278x + 0.1835</text>
<text x="478" y="381.4" font-size="9.5" text-anchor="middle" fill="#222" font-family='"Liberation Sans", Arial, sans-serif' stroke="#222" stroke-width="0.2">R² = 0.0541</text>
<text x="478" y="392.6" font-size="9.5" text-anchor="middle" fill="#222" font-family='"Liberation Sans", Arial, sans-serif' stroke="#222" stroke-width="0.2"><tspan font-style="italic">p</tspan> =0.353</text>
<text x="511.5" y="452.8" font-size="7.3" font-weight="bold" text-anchor="middle" fill="#1d8fd3" font-family='"Liberation Sans", Arial, sans-serif' stroke="#1d8fd3" stroke-width="0.2">y = -1.345x + 0.864</text>
<text x="511.5" y="461.1" font-size="7.3" font-weight="bold" text-anchor="middle" fill="#1d8fd3" font-family='"Liberation Sans", Arial, sans-serif' stroke="#1d8fd3" stroke-width="0.2">R<tspan font-size="5.4" dy="-2.7">2</tspan><tspan dy="2.7"> = 0.4286</tspan></text>
<text x="511.5" y="469.8" font-size="7.3" font-weight="bold" text-anchor="middle" fill="#1d8fd3" font-family='"Liberation Sans", Arial, sans-serif' stroke="#1d8fd3" stroke-width="0.2"><tspan font-style="italic">p</tspan> =0.040</text>
</svg>
</body></html>
